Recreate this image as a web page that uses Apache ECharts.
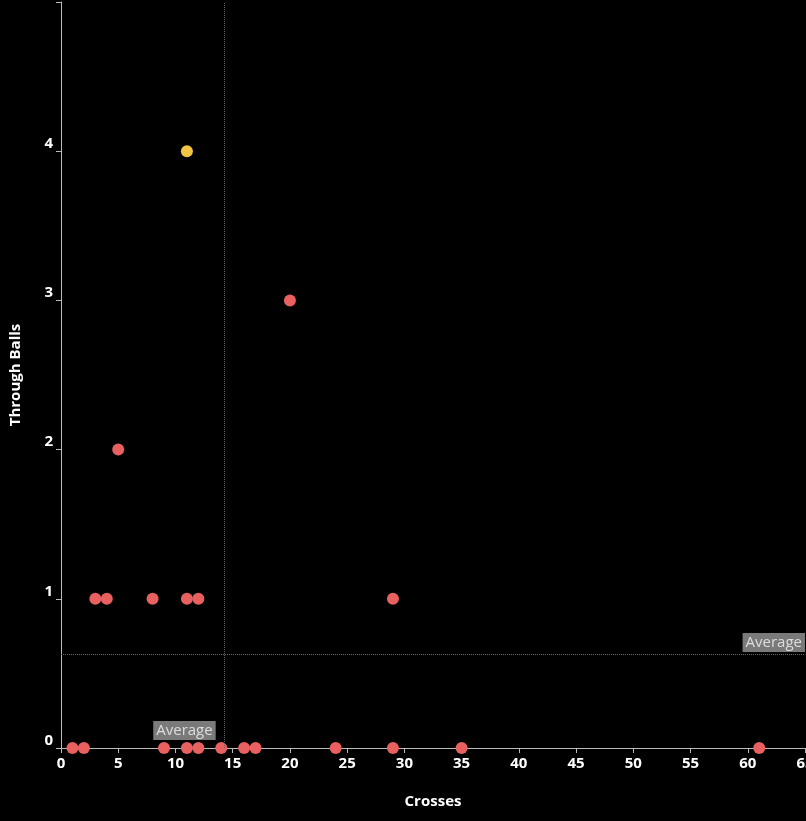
<!DOCTYPE html>
<html>
<head>
<meta charset="utf-8">
<script src="https://cdn.jsdelivr.net/npm/echarts@6/dist/echarts.min.js"></script>
<style>html,body{margin:0;background:#000;}#chart{width:806px;height:821px;}</style>
</head>
<body>
<div id="chart"></div>
<script>
// crosses / through balls per player
var redCrosses = [1, 2, 9, 11, 12, 14, 16, 17, 24, 29, 35, 61, 3, 4, 8, 11, 12, 29, 5, 20];
var redThrough = [0, 0, 0, 0, 0, 0, 0, 0, 0, 0, 0, 0, 1, 1, 1, 1, 1, 1, 2, 3];
var hiCrosses = [11];
var hiThrough = [4];
var avgCrosses = 14.3;
var avgThrough = 0.63;

function pairs(xs, ys) {
    return xs.map(function(x, i) { return [x, ys[i]]; });
}

var avgLabel = {
    show: true, formatter: 'Average', color: '#ddd', fontFamily: 'Open Sans', fontSize: 15,
    backgroundColor: '#7a7a7a', padding: [2, 3]
};
var bold = {color: '#fff', fontWeight: 'bold', fontSize: 15, fontFamily: 'Open Sans'};

echarts.init(document.getElementById('chart')).setOption({
    backgroundColor: '#000',
    animation: false,
    grid: {left: 61, right: 1, top: 2, bottom: 73, outerBoundsMode: 'none'},
    xAxis: {
        type: 'value', min: 0, max: 65, interval: 5,
        name: 'Crosses', nameLocation: 'middle', nameGap: 46,
        nameTextStyle: bold,
        axisLine: {lineStyle: {color: '#bbb'}},
        axisTick: {show: true, lineStyle: {color: '#bbb'}},
        axisLabel: bold,
        splitLine: {show: false}
    },
    yAxis: {
        type: 'value', min: 0, max: 5, interval: 1,
        name: 'Through Balls', nameLocation: 'middle', nameGap: 38,
        nameTextStyle: bold,
        axisLine: {show: true, lineStyle: {color: '#bbb'}},
        axisTick: {show: true, lineStyle: {color: '#bbb'}},
        axisLabel: Object.assign({verticalAlign: 'bottom'}, bold),
        splitLine: {show: false}
    },
    series: [{
        type: 'scatter', symbolSize: 12,
        itemStyle: {color: '#e8605f', opacity: 1},
        data: pairs(redCrosses, redThrough),
        markLine: {
            silent: true, symbol: 'none',
            lineStyle: {color: '#666', type: 'dotted', width: 1},
            data: [
                {xAxis: avgCrosses, label: {show: false}},
                {yAxis: avgThrough, label: Object.assign({position: 'insideEndTop', distance: [0, 2]}, avgLabel)}
            ]
        },
        markPoint: {
            silent: true, symbol: 'circle', symbolSize: 0,
            data: [{coord: [avgCrosses, 0], label: Object.assign({position: 'insideBottomRight', offset: [-4, -3]}, avgLabel)}]
        }
    }, {
        type: 'scatter', symbolSize: 12,
        itemStyle: {color: '#f2c544', opacity: 1},
        data: pairs(hiCrosses, hiThrough)
    }]
});
</script>
</body>
</html>
